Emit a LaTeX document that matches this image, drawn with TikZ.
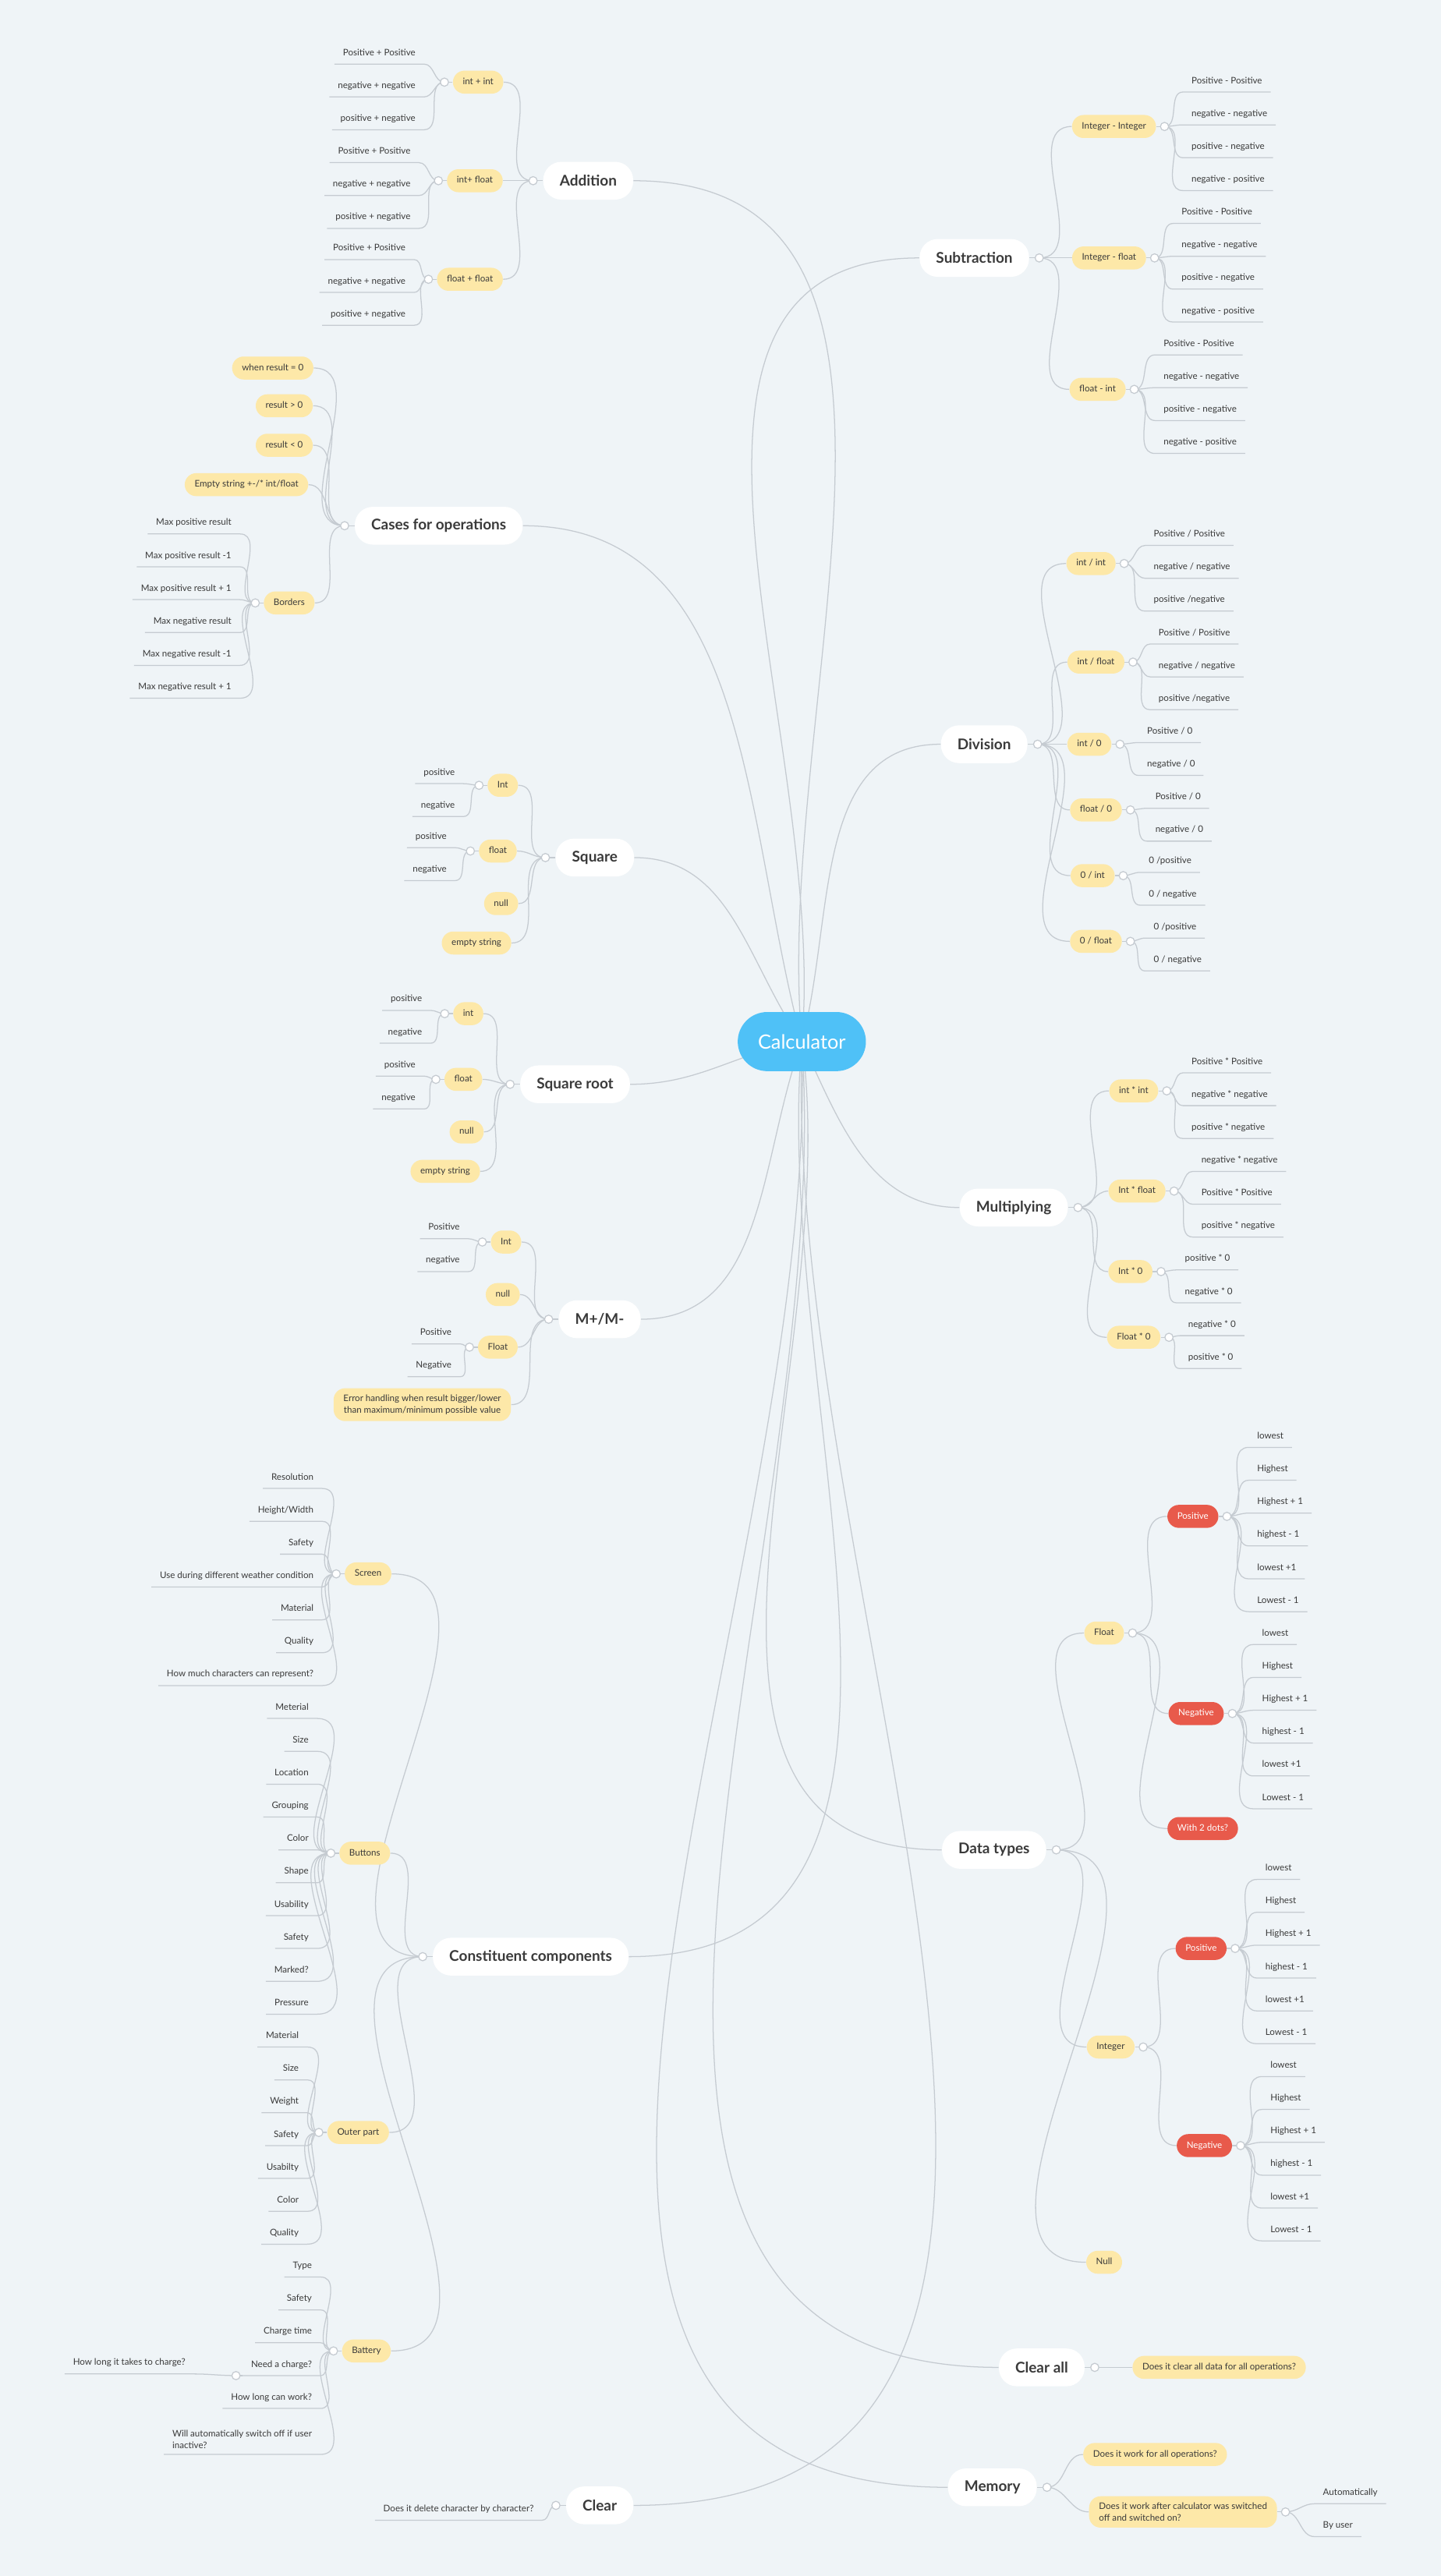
\documentclass[tikz,border=0pt]{standalone}
\usepackage{fontspec}
\setmainfont{Lato}
\usetikzlibrary{calc,backgrounds}
\pgfdeclarelayer{bg}
\pgfsetlayers{bg,background,main}
\definecolor{bgc}{HTML}{EFF4F7}
\definecolor{lnc}{HTML}{C5CBD1}
\definecolor{pillY}{HTML}{FDE8A8}
\definecolor{pillR}{HTML}{E85A4B}
\definecolor{calcc}{HTML}{4FC1F7}
\definecolor{txt}{HTML}{3A3A3A}
\tikzset{
 ln/.style={draw=lnc,line width=0.6pt},
 leaf/.style={inner xsep=5pt,inner ysep=3.5pt,text height=4.5pt,text depth=1.5pt,font=\fontsize{5.5}{7}\selectfont,text=txt,align=left},
 pill/.style={fill=pillY,rounded corners=7pt,inner xsep=6pt,inner ysep=4pt,text height=4.5pt,text depth=1.5pt,font=\fontsize{5.5}{7}\selectfont,text=txt,align=center},
 rpill/.style={pill,fill=pillR,text=white},
 mainn/.style={fill=white,rounded corners=11pt,minimum height=23pt,inner xsep=10pt,font=\fontsize{9}{11}\selectfont\bfseries,text=txt},
 jc/.style={circle,draw=lnc,fill=white,line width=0.6pt,inner sep=0pt,minimum size=5pt},
}
\newcounter{lf}
\newcommand\MNL[4]{\node[mainn] (#1) at (#2,-#3) {#4};
 \coordinate (#1j) at ($(#1.west)+(-6,0)$);
 \begin{pgfonlayer}{background}\draw[ln] (#1.west)--(#1j);\end{pgfonlayer}
 \node[jc] at (#1j) {};}
\newcommand\MNR[4]{\node[mainn] (#1) at (#2,-#3) {#4};
 \coordinate (#1j) at ($(#1.east)+(6,0)$);
 \begin{pgfonlayer}{background}\draw[ln] (#1.east)--(#1j);\end{pgfonlayer}
 \node[jc] at (#1j) {};}
\newcommand\PL[6]{\node[#5] (#1) at (#2,-#3) {#4};
 \coordinate (#1j) at ($(#1.west)+(-5,0)$);
 \begin{pgfonlayer}{background}\draw[ln] (#6) to[out=180,in=0] (#1.east);\end{pgfonlayer}}
\newcommand\PR[6]{\node[#5] (#1) at (#2,-#3) {#4};
 \coordinate (#1j) at ($(#1.east)+(5,0)$);
 \begin{pgfonlayer}{background}\draw[ln] (#6) to[out=0,in=180] (#1.west);\end{pgfonlayer}}
\newcommand\JL[1]{\begin{pgfonlayer}{background}\draw[ln] (#1.west)--(#1j);\end{pgfonlayer}\node[jc] at (#1j) {};}
\newcommand\JR[1]{\begin{pgfonlayer}{background}\draw[ln] (#1.east)--(#1j);\end{pgfonlayer}\node[jc] at (#1j) {};}
\newcommand\LL[4]{\stepcounter{lf}\edef\nm{lf\arabic{lf}}%
 \node[leaf,anchor=south east] (\nm) at (#1,{-(#2)-8}) {#3};
 \begin{pgfonlayer}{background}\draw[ln] (\nm.south west)--(\nm.south east) to[out=0,in=180] (#4);\end{pgfonlayer}}
\newcommand\RL[4]{\stepcounter{lf}\edef\nm{lf\arabic{lf}}%
 \node[leaf,anchor=south west] (\nm) at (#1,{-(#2)-8}) {#3};
 \begin{pgfonlayer}{background}\draw[ln] (#4) to[out=0,in=180] (\nm.south west)--(\nm.south east);\end{pgfonlayer}}
\begin{document}
\begin{tikzpicture}[x=1pt,y=1pt]
\begin{pgfonlayer}{bg}\fill[bgc] (0,0) rectangle (877,-1568);\end{pgfonlayer}
\useasboundingbox (0,0) rectangle (877,-1568);
\node[fill=calcc,rounded corners=18pt,minimum width=78pt,minimum height=36pt,text=white,font=\fontsize{12}{14}\selectfont] (calc) at (488,-634) {Calculator};
% main nodes
\MNL{add}{358}{110}{Addition}
\MNL{cas}{267}{320}{Cases for operations}
\MNL{sq}{362}{522}{Square}
\MNL{sr}{350}{660}{Square root}
\MNL{mm}{365}{803}{M+/M-}
\MNL{cc}{323}{1191}{Constituent components}
\MNL{cl}{365}{1525}{Clear}
\MNR{sub}{593}{157}{Subtraction}
\MNR{div}{599}{453}{Division}
\MNR{mul}{617}{735}{Multiplying}
\MNR{dt}{605}{1126}{Data types}
\MNR{ca}{634}{1441}{Clear all}
\MNR{mem}{604}{1514}{Memory}
\begin{pgfonlayer}{background}
\draw[ln] (calc.center) to[out=95,in=0] (add.east);
\draw[ln] (calc.center) to[out=105,in=0] (cas.east);
\draw[ln] (calc.center) to[out=125,in=0] (sq.east);
\draw[ln] (calc.center) to[out=190,in=0] (sr.east);
\draw[ln] (calc.center) to[out=250,in=0] (mm.east);
\draw[ln] (calc.center) to[out=265,in=0] (cc.east);
\draw[ln] (calc.center) to[out=268,in=0] (cl.east);
\draw[ln] (calc.center) to[out=85,in=180] (sub.west);
\draw[ln] (calc.center) to[out=75,in=180] (div.west);
\draw[ln] (calc.center) to[out=295,in=180] (mul.west);
\draw[ln] (calc.center) to[out=278,in=180] (dt.west);
\draw[ln] (calc.center) to[out=274,in=180] (ca.west);
\draw[ln] (calc.center) to[out=272,in=180] (mem.west);
\end{pgfonlayer}
% Addition
\PL{a1}{291}{50}{int + int}{pill}{addj}\JL{a1}
\LL{258}{31}{Positive + Positive}{a1j}\LL{258}{51}{negative + negative}{a1j}\LL{258}{71}{positive + negative}{a1j}
\PL{a2}{289}{110}{int+ float}{pill}{addj}\JL{a2}
\LL{255}{91}{Positive + Positive}{a2j}\LL{255}{111}{negative + negative}{a2j}\LL{255}{131}{positive + negative}{a2j}
\PL{a3}{286}{170}{float + float}{pill}{addj}\JL{a3}
\LL{252}{150}{Positive + Positive}{a3j}\LL{252}{170}{negative + negative}{a3j}\LL{252}{190}{positive + negative}{a3j}
% Cases
\PL{c1}{166}{224}{when result = 0}{pill}{casj}
\PL{c2}{173}{247}{result > 0}{pill}{casj}
\PL{c3}{173}{271}{result < 0}{pill}{casj}
\PL{c4}{150}{295}{Empty string +-/* int/float}{pill}{casj}
\PL{c5}{176}{367}{Borders}{pill}{casj}\JL{c5}
\LL{146}{317}{Max positive result}{c5j}\LL{146}{337}{Max positive result -1}{c5j}\LL{146}{357}{Max positive result + 1}{c5j}
\LL{146}{377}{Max negative result}{c5j}\LL{146}{397}{Max negative result -1}{c5j}\LL{146}{417}{Max negative result + 1}{c5j}
% Square
\PL{s1}{306}{478}{Int}{pill}{sqj}\JL{s1}
\LL{282}{469}{positive}{s1j}\LL{282}{489}{negative}{s1j}
\PL{s2}{303}{518}{float}{pill}{sqj}\JL{s2}
\LL{277}{508}{positive}{s2j}\LL{277}{528}{negative}{s2j}
\PL{s3}{305}{550}{null}{pill}{sqj}
\PL{s4}{290}{574}{empty string}{pill}{sqj}
% Square root
\PL{r1}{285}{617}{int}{pill}{srj}\JL{r1}
\LL{262}{607}{positive}{r1j}\LL{262}{627}{negative}{r1j}
\PL{r2}{282}{657}{float}{pill}{srj}\JL{r2}
\LL{258}{647}{positive}{r2j}\LL{258}{667}{negative}{r2j}
\PL{r3}{284}{689}{null}{pill}{srj}
\PL{r4}{271}{713}{empty string}{pill}{srj}
% M+/M-
\PL{m1}{308}{756}{Int}{pill}{mmj}\JL{m1}
\LL{285}{746}{Positive}{m1j}\LL{285}{766}{negative}{m1j}
\PL{m2}{306}{788}{null}{pill}{mmj}
\PL{m3}{303}{820}{Float}{pill}{mmj}\JL{m3}
\LL{280}{810}{Positive}{m3j}\LL{280}{830}{Negative}{m3j}
\PL{m4}{257}{855}{Error handling when result bigger/lower\\than maximum/minimum possible value}{pill,text height=,text depth=}{mmj}
% Constituent components
\PL{k1}{224}{958}{Screen}{pill}{ccj}\JL{k1}
\LL{196}{898}{Resolution}{k1j}\LL{196}{918}{Height/Width}{k1j}\LL{196}{938}{Safety}{k1j}
\LL{196}{958}{Use during different weather condition}{k1j}\LL{196}{978}{Material}{k1j}\LL{196}{998}{Quality}{k1j}
\LL{196}{1018}{How much characters can represent?}{k1j}
\PL{k2}{222}{1128}{Buttons}{pill}{ccj}\JL{k2}
\LL{193}{1038}{Meterial}{k2j}\LL{193}{1058}{Size}{k2j}\LL{193}{1078}{Location}{k2j}\LL{193}{1098}{Grouping}{k2j}
\LL{193}{1118}{Color}{k2j}\LL{193}{1138}{Shape}{k2j}\LL{193}{1158}{Usability}{k2j}\LL{193}{1178}{Safety}{k2j}
\LL{193}{1198}{Marked?}{k2j}\LL{193}{1218}{Pressure}{k2j}
\PL{k3}{218}{1298}{Outer part}{pill}{ccj}\JL{k3}
\LL{187}{1238}{Material}{k3j}\LL{187}{1258}{Size}{k3j}\LL{187}{1278}{Weight}{k3j}\LL{187}{1298}{Safety}{k3j}
\LL{187}{1318}{Usabilty}{k3j}\LL{187}{1338}{Color}{k3j}\LL{187}{1358}{Quality}{k3j}
\PL{k4}{223}{1431}{Battery}{pill}{ccj}\JL{k4}
\LL{195}{1378}{Type}{k4j}\LL{195}{1398}{Safety}{k4j}\LL{195}{1418}{Charge time}{k4j}
\LL{195}{1438}{Need a charge?}{k4j}
\coordinate (ncj) at ($(\nm.south west)+(-4,0)$);
\begin{pgfonlayer}{background}\draw[ln] (\nm.south west)--(ncj);\end{pgfonlayer}\node[jc] at (ncj) {};
\LL{118}{1437}{How long it takes to charge?}{ncj}
\LL{195}{1458}{How long can work?}{k4j}
\stepcounter{lf}\edef\nm{lf\arabic{lf}}%
\node[leaf,anchor=south east,text height=,text depth=] (\nm) at (195,-1494) {Will automatically switch off if user\\inactive?};
\begin{pgfonlayer}{background}\draw[ln] (\nm.south west)--(\nm.south east) to[out=0,in=180] (k4j);\end{pgfonlayer}
% Clear
\LL{330}{1526}{Does it delete character by character?}{clj}
% Subtraction
\PR{b1}{678}{77}{Integer - Integer}{pill}{subj}\JR{b1}
\RL{720}{48}{Positive - Positive}{b1j}\RL{720}{68}{negative - negative}{b1j}\RL{720}{88}{positive - negative}{b1j}\RL{720}{108}{negative - positive}{b1j}
\PR{b2}{675}{157}{Integer - float}{pill}{subj}\JR{b2}
\RL{714}{128}{Positive - Positive}{b2j}\RL{714}{148}{negative - negative}{b2j}\RL{714}{168}{positive - negative}{b2j}\RL{714}{188}{negative - positive}{b2j}
\PR{b3}{668}{237}{float - int}{pill}{subj}\JR{b3}
\RL{703}{208}{Positive - Positive}{b3j}\RL{703}{228}{negative - negative}{b3j}\RL{703}{248}{positive - negative}{b3j}\RL{703}{268}{negative - positive}{b3j}
% Division
\PR{d1}{664}{343}{int / int}{pill}{divj}\JR{d1}
\RL{697}{324}{Positive / Positive}{d1j}\RL{697}{344}{negative / negative}{d1j}\RL{697}{364}{positive /negative}{d1j}
\PR{d2}{667}{403}{int / float}{pill}{divj}\JR{d2}
\RL{700}{384}{Positive / Positive}{d2j}\RL{700}{404}{negative / negative}{d2j}\RL{700}{424}{positive /negative}{d2j}
\PR{d3}{663}{453}{int / 0}{pill}{divj}\JR{d3}
\RL{693}{444}{Positive / 0}{d3j}\RL{693}{464}{negative / 0}{d3j}
\PR{d4}{667}{493}{float / 0}{pill}{divj}\JR{d4}
\RL{698}{484}{Positive / 0}{d4j}\RL{698}{504}{negative / 0}{d4j}
\PR{d5}{665}{533}{0 / int}{pill}{divj}\JR{d5}
\RL{694}{523}{0 /positive}{d5j}\RL{694}{543}{0 / negative}{d5j}
\PR{d6}{667}{573}{0 / float}{pill}{divj}\JR{d6}
\RL{697}{563}{0 /positive}{d6j}\RL{697}{583}{0 / negative}{d6j}
% Multiplying
\PR{x1}{690}{664}{int * int}{pill}{mulj}\JR{x1}
\RL{720}{645}{Positive * Positive}{x1j}\RL{720}{665}{negative * negative}{x1j}\RL{720}{685}{positive * negative}{x1j}
\PR{x2}{692}{725}{Int * float}{pill}{mulj}\JR{x2}
\RL{726}{705}{negative * negative}{x2j}\RL{726}{725}{Positive * Positive}{x2j}\RL{726}{745}{positive * negative}{x2j}
\PR{x3}{688}{774}{Int * 0}{pill}{mulj}\JR{x3}
\RL{716}{765}{positive * 0}{x3j}\RL{716}{785}{negative * 0}{x3j}
\PR{x4}{690}{814}{Float * 0}{pill}{mulj}\JR{x4}
\RL{718}{805}{negative * 0}{x4j}\RL{718}{825}{positive * 0}{x4j}
% Data types
\PR{t1}{672}{994}{Float}{pill}{dtj}\JR{t1}
\PR{t11}{726}{923}{Positive}{rpill}{t1j}\JR{t11}
\RL{760}{873}{lowest}{t11j}\RL{760}{893}{Highest}{t11j}\RL{760}{913}{Highest + 1}{t11j}\RL{760}{933}{highest - 1}{t11j}\RL{760}{953}{lowest +1}{t11j}\RL{760}{973}{Lowest - 1}{t11j}
\PR{t12}{728}{1043}{Negative}{rpill}{t1j}\JR{t12}
\RL{763}{993}{lowest}{t12j}\RL{763}{1013}{Highest}{t12j}\RL{763}{1033}{Highest + 1}{t12j}\RL{763}{1053}{highest - 1}{t12j}\RL{763}{1073}{lowest +1}{t12j}\RL{763}{1093}{Lowest - 1}{t12j}
\PR{t13}{732}{1113}{With 2 dots?}{rpill}{t1j}
\PR{t2}{676}{1246}{Integer}{pill}{dtj}\JR{t2}
\PR{t21}{731}{1186}{Positive}{rpill}{t2j}\JR{t21}
\RL{765}{1136}{lowest}{t21j}\RL{765}{1156}{Highest}{t21j}\RL{765}{1176}{Highest + 1}{t21j}\RL{765}{1196}{highest - 1}{t21j}\RL{765}{1216}{lowest +1}{t21j}\RL{765}{1236}{Lowest - 1}{t21j}
\PR{t22}{733}{1306}{Negative}{rpill}{t2j}\JR{t22}
\RL{768}{1256}{lowest}{t22j}\RL{768}{1276}{Highest}{t22j}\RL{768}{1296}{Highest + 1}{t22j}\RL{768}{1316}{highest - 1}{t22j}\RL{768}{1336}{lowest +1}{t22j}\RL{768}{1356}{Lowest - 1}{t22j}
\PR{t3}{672}{1377}{Null}{pill}{dtj}
% Clear all
\PR{q1}{742}{1441}{Does it clear all data for all operations?}{pill}{caj}
% Memory
\PR{y1}{703}{1494}{Does it work for all operations?}{pill}{memj}
\PR{y2}{720}{1529}{Does it work after calculator was switched\\off and switched on?}{pill,align=left,text height=,text depth=}{memj}\JR{y2}
\RL{800}{1516}{Automatically}{y2j}\RL{800}{1536}{By user}{y2j}
\end{tikzpicture}
\end{document}
